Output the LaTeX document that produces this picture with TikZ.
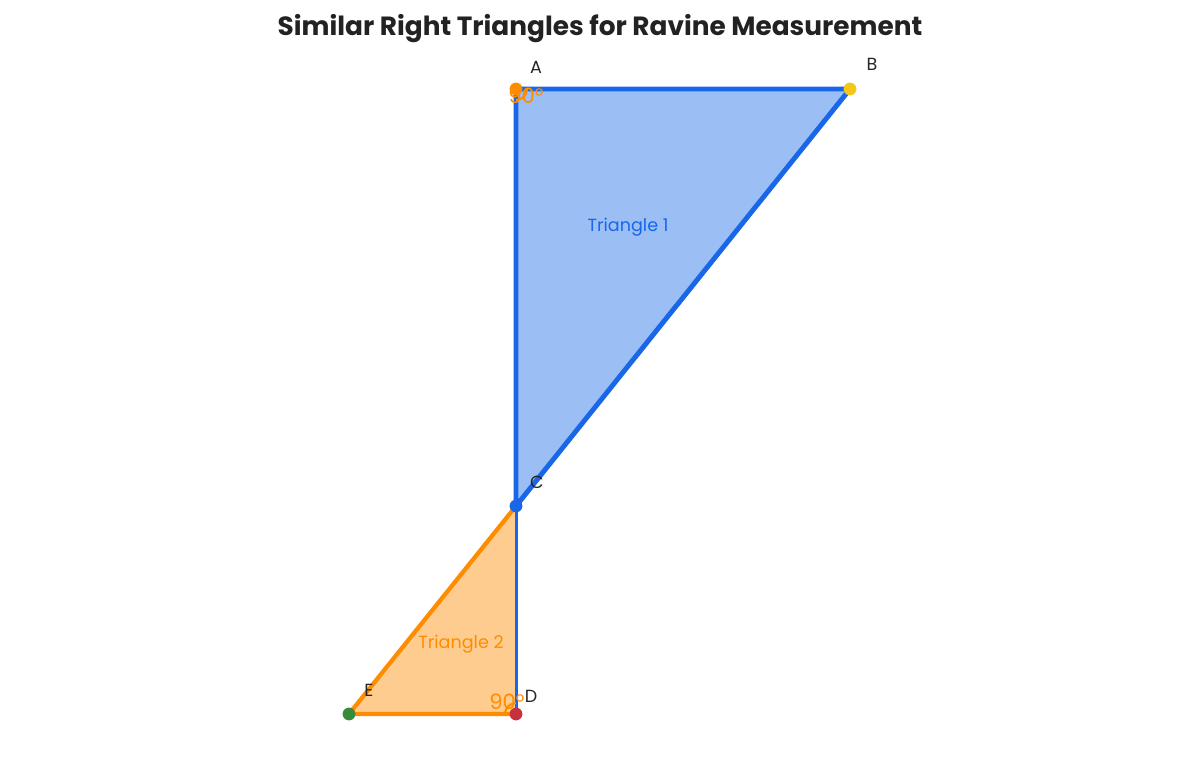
\documentclass[tikz,border=0pt]{standalone}
\usepackage{fontspec}
\setmainfont{Poppins}
\usepackage{xcolor}
\usetikzlibrary{positioning, arrows.meta}

\definecolor{triblue}{HTML}{1A66E8}
\definecolor{trifill}{HTML}{9BBFF5}
\definecolor{triorange}{HTML}{FF8C00}
\definecolor{orfill}{HTML}{FFCC8F}
\definecolor{dotyellow}{HTML}{F5C518}
\definecolor{dotred}{HTML}{C8303C}
\definecolor{dotgreen}{HTML}{3A8A3C}
\definecolor{titlegray}{HTML}{222222}

\begin{document}
\begin{tikzpicture}[
      x=0.02cm, y=-0.02cm,
      pt/.style     = {circle, inner sep=0pt, minimum size=7.3pt},
      vlabel/.style = {font=\fontsize{10}{12}\selectfont, text=black!85},
      anglbl/.style = {font=\fontsize{12}{14}\selectfont, text=triorange, inner sep=0pt},
      side1/.style  = {draw=triblue, line width=2.8pt, line join=round},
      side2/.style  = {draw=triorange, line width=2.4pt, line join=round}
  ]
  \useasboundingbox (0,0) rectangle (1200,763);

  % --- Title ---
  \node[font=\fontsize{15}{18}\selectfont\bfseries, text=titlegray] (title) at (600,29)
        {Similar Right Triangles for Ravine Measurement};

  % --- Vertices ---
  \coordinate (A) at (516,89);
  \coordinate (B) at (850,89);
  \coordinate (C) at (516,506);
  \coordinate (D) at (516,714);
  \coordinate (E) at (349,714);

  % --- Triangle 2 (small, orange) ---
  \fill[orfill] (C) -- (D) -- (E) -- cycle;
  \draw[side2] (D) -- (E) -- (C);
  \draw[triblue, line width=1.7pt] (C) -- (D);   % shared vertical

  % --- Triangle 1 (large, blue) ---
  \fill[trifill] (A) -- (B) -- (C) -- cycle;
  \draw[side1] (A) -- (B) -- (C) -- cycle;

  % --- Right angle marks ---
  \draw[triorange, line width=1.2pt] ([yshift=-0.22cm]A) arc[start angle=-90, end angle=0, radius=0.22cm];
  \node[anglbl] (angA) at (526,96) {90°};
  \draw[triorange, line width=1.2pt] ([xshift=-0.22cm]D) arc[start angle=180, end angle=90, radius=0.22cm];
  \node[anglbl] (angD) at (507,702) {90°};

  % --- Points ---
  \node[pt, fill=triorange]  (pA) at (A) {};
  \node[pt, fill=dotyellow]  (pB) at (B) {};
  \node[pt, fill=triblue]    (pC) at (C) {};
  \node[pt, fill=dotred]     (pD) at (D) {};
  \node[pt, fill=dotgreen]   (pE) at (E) {};

  % --- Labels ---
  \node[vlabel] (lA) at (536,67)  {A};
  \node[vlabel] (lB) at (872,64)  {B};
  \node[vlabel] (lC) at (537,482) {C};
  \node[vlabel] (lD) at (531,696) {D};
  \node[vlabel] (lE) at (369,690) {E};

  \node[font=\fontsize{10}{12}\selectfont, text=triblue]   (t1) at (628,227) {Triangle 1};
  \node[font=\fontsize{10}{12}\selectfont, text=triorange] (t2) at (461,644) {Triangle 2};

\end{tikzpicture}
\end{document}
